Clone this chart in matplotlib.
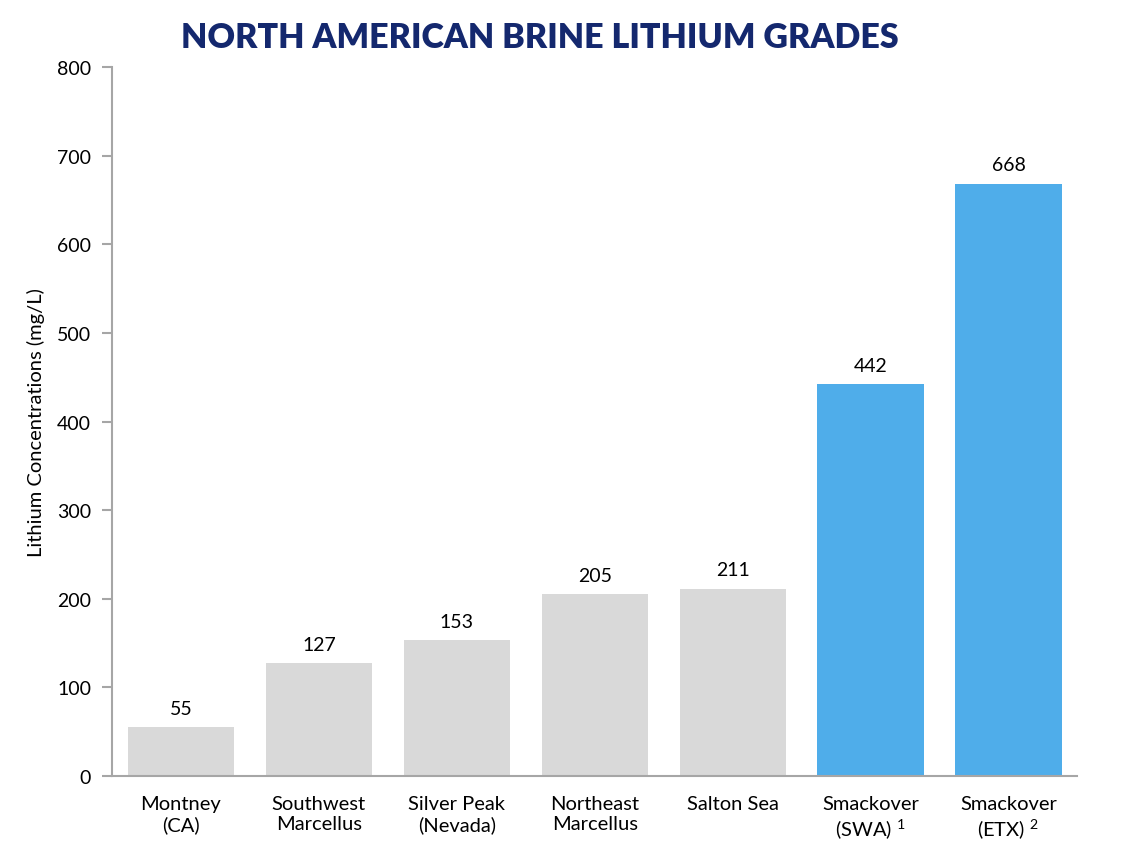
import matplotlib.pyplot as plt

# Datos
categorias = ['Montney\n(CA)', 'Southwest\nMarcellus', 'Silver Peak\n(Nevada)',
              'Northeast\nMarcellus', 'Salton Sea', 'Smackover\n(SWA) $^{1}$',
              'Smackover\n(ETX) $^{2}$']
valores = [55, 127, 153, 205, 211, 442, 668]
colores = ['#D9D9D9'] * 5 + ['#4FADEA'] * 2

plt.rcParams['font.family'] = ['Lato', 'DejaVu Sans']
plt.rcParams['mathtext.fontset'] = 'custom'
plt.rcParams['mathtext.rm'] = 'Lato'
plt.rcParams['mathtext.it'] = 'Lato'
plt.rcParams['mathtext.default'] = 'rm'

fig = plt.figure(figsize=(11.22, 8.62), dpi=100)
ax = fig.add_axes([0.0998, 0.0986, 0.8605, 0.8225])

x = range(len(valores))
barras = ax.bar(x, valores, width=0.77, color=colores, zorder=2)

for xi, v in zip(x, valores):
    ax.text(xi, v + 12, str(v), ha='center', va='bottom', fontsize=14,
            color='black')

ax.set_xlim(-0.5, len(valores) - 0.5)
ax.set_ylim(0, 800)
ax.set_yticks(range(0, 801, 100))
ax.set_xticks(list(x))
ax.set_xticklabels(categorias, fontsize=14.5, linespacing=1.2)
ax.tick_params(axis='y', labelsize=14, length=7, color='#A6A6A6', width=1.5, pad=8)
ax.tick_params(axis='x', length=0, pad=14)

for lado in ['top', 'right']:
    ax.spines[lado].set_visible(False)
for lado in ['left', 'bottom']:
    ax.spines[lado].set_color('#A6A6A6')
    ax.spines[lado].set_linewidth(1.5)

ax.set_ylabel('Lithium Concentrations (mg/L)', fontsize=14.5, labelpad=9)

fig.text(0.481, 0.956, 'NORTH AMERICAN BRINE LITHIUM GRADES', ha='center',
         va='center', fontsize=24.5, fontweight='heavy', color='#14286E')

plt.savefig('out.png', dpi=100)
